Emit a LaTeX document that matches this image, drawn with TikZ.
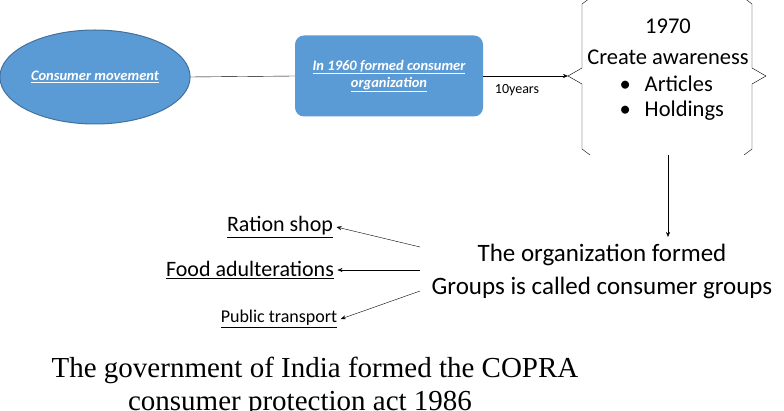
\documentclass[tikz,border=0pt]{standalone}
\usepackage{fontspec}
\setmainfont{Carlito}
\newfontfamily\serifone{Liberation Serif}
\usetikzlibrary{shapes.geometric,arrows.meta}
\begin{document}
\begin{tikzpicture}[x=1pt,y=-1pt,
  wtxt/.style={text=white,font=\fontsize{14.5}{17}\selectfont\bfseries\itshape,align=center},
  big/.style={font=\fontsize{25}{30}\selectfont,align=center},
  boxt/.style={font=\fontsize{22.5}{27}\selectfont,align=center},
  lab/.style={font=\fontsize{22}{26}\selectfont},
  arr/.style={-{Stealth[length=5pt,width=4pt]},black}]
\useasboundingbox (0,0) rectangle (784,411);
\node[ellipse,draw={rgb,255:red,65;green,113;blue,156},fill={rgb,255:red,91;green,155;blue,213},line width=1pt,minimum width=176pt,minimum height=94pt,wtxt] (e) at (95,77) {\underline{Consumer movement}};
\node[rectangle,rounded corners=9pt,fill={rgb,255:red,91;green,155;blue,213},minimum width=188pt,minimum height=81pt,wtxt] (r) at (389,76) {\underline{In 1960 formed consumer}\\\underline{organization}};
\draw (e.east) -- (r.west);
\coordinate (bl) at (568,76);
\draw[arr] (r.east) -- (bl);
\node[font=\fontsize{14}{16}\selectfont] (ten) at (517,90) {10years};
\draw (590,-2) -- (582,4) -- (582,68) -- (568,76) -- (582,84) -- (582,149) -- (590,155);
\draw (744,-2) -- (752,4) -- (752,68) -- (766,76) -- (752,84) -- (752,149) -- (744,155);
\node[boxt] (t1) at (668,26) {1970};
\node[boxt] (t2) at (668,57) {Create awareness};
\node[boxt,anchor=west] (t3) at (616,84) {\textbullet\hspace{14pt}Articles};
\node[boxt,anchor=west] (t4) at (616,111) {\textbullet\hspace{14pt}Holdings};
\coordinate (bb) at (668,155);
\node[big] (g1) at (602,255) {The organization formed};
\node[big] (g2) at (602,288) {Groups is called consumer groups};
\draw[arr] (bb) -- (668,237);
\node[lab] (a1) at (280,227) {\underline{Ration shop}};
\node[lab] (a2) at (250,270) {\underline{Food adulterations}};
\node[font=\fontsize{18}{21}\selectfont] (a3) at (279,319) {\underline{Public transport}};
\coordinate (s1) at (420,247);
\coordinate (s2) at (420,270);
\coordinate (s3) at (420,291);
\draw[arr] (s1) -- (a1.east);
\draw[arr] (s2) -- (a2.east);
\draw[arr] (s3) -- (a3.east);
\node[font=\serifone\fontsize{29}{34}\selectfont] (b1) at (315,370) {The government of India formed the COPRA};
\node[font=\serifone\fontsize{29}{34}\selectfont] (b2) at (300,404) {consumer protection act 1986};
\end{tikzpicture}
\end{document}
